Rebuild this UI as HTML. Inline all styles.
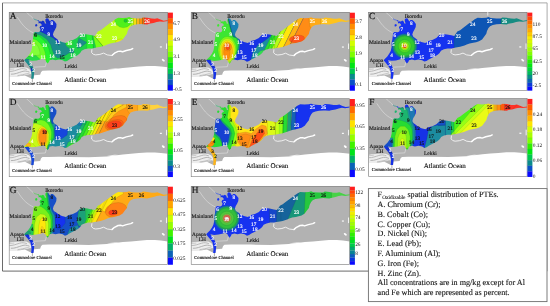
<!DOCTYPE html>
<html lang="en"><head><meta charset="utf-8"><title>Spatial distribution of PTEs</title>
<style>html,body{margin:0;padding:0;background:#fff}svg{display:block}</style></head><body>
<svg width="550" height="306" viewBox="0 0 550 306" text-rendering="geometricPrecision">
<defs><clipPath id="mc"><rect x="0" y="0" width="159.0" height="78.6"/></clipPath>
<clipPath id="lg"><path d="M24,27.8 L24.4,24.5 24.8,21.3 26,20 29.3,20.3 31,19.4 31.6,17.4 30.6,15.6 31.4,14 33,13.4 32.4,12 30.4,10.6 30.6,9.2 32.6,9.4 34,8.6 35.4,9.6 36,11.6
 37.4,11.4 36.6,9.6 36.4,7.6 37.6,6.2 39.4,6.6 40.2,8.2 41.4,9.6 42,8 44,8 45.8,9.6 47.6,12 47.4,15 46.2,17.6 44.8,20 44,22.6 45,24.8 47.4,26.4 49.5,28.2 51,29 53,30 57,31 60,29 64,28 68,26 71,23 74,22
 78.7,22.5 83,23.3 86,24 87.5,21.8 89,19.6 91.8,18.2 94.7,16 97.6,13.8 100.5,11.6 103.5,9.5 106.4,7.3 109.3,5.8 113.6,6.1 118,5.8 120.2,5.1
 122.4,6.1 128.2,6.5 132.5,6.5 134,5.5 138.4,5.8 142.7,6.6 146,6.7 148.4,6.2 151.6,7.5 154.8,8.7 159,8.1 159,9.1 154.2,9.8 151,9.4 147.8,10 144.6,11 140.1,11.8 138.4,12.4 134.7,12.2 132.5,12
 128.2,12.3 124.5,13 121.8,14.2 120.2,16 118.7,19 118,21.8 115.8,24.7 113.8,27.4 110.7,29.3 107.8,30.2 105,30.8 101.3,31.5 98.4,32.5 96.2,33.4
 91.8,34.8 87.5,35.6 85.3,36 83,36.4 79.3,36.5 75.6,37.3 72.7,38.7 71.3,41 69,43 66.2,44.5 63.3,46 60.4,47.5 58.2,49 56,49.6 53.8,48.2 50.2,47.5
 46.5,48.2 43.6,47.5 40.7,48.2 40,50 38.6,51.6 37.4,50 36.4,47.8 34.2,46.6 31.3,47.6 27.6,48.4 23.3,48.8 19.5,48.2
 21,50.4 23.3,53.3 25,57 25.3,61 24.5,66.8 22.3,66.8 22.6,63 22.4,59.8 21.6,56.4 19.6,53.5 17.2,50.6 15.3,48.2
 16.7,46.7 19,44.5 21,41.6 22.5,38.7 23.3,35 23.3,30.7 Z"/><path d="M26.4,12.4 L27.8,12 28.6,13.2 27.6,14.6 26.2,14.2 Z"/><path d="M29.6,10.2 L31,9.6 31,11 29.8,11.4 Z"/><path d="M28.4,8 L29.6,8.2 30.6,9.4 29.2,9.4 Z"/></clipPath>
<filter id="bl" filterUnits="userSpaceOnUse" x="-10" y="-10" width="180" height="100"><feGaussianBlur stdDeviation="0.55"/></filter>
<filter id="bl2" filterUnits="userSpaceOnUse" x="-10" y="-10" width="180" height="100"><feGaussianBlur stdDeviation="1.6"/></filter>
<g id="base" clip-path="url(#mc)"><rect x="0" y="0" width="159.0" height="78.6" fill="#b2b2b2"/><path d="M0,64.2 L8,64.6 16,63.4 22.4,66.6 24.8,66.6 25.2,63.2 31.2,62.7 32.2,59.9 33.6,58.7 40,58.5 50,58.4 60,58.5 80,58.8 98,58 106,57 114,56 122,55.3 130,54.6 138,54 146,54 152,54.5 159,55.3 L159,79 0,79 Z" fill="#fff"/><path d="M0,56.6 L3,56 8,55.7 13,55.3 17.4,55.5 20.4,57 22,59.4 22.6,62 19,62.8 13.4,63.2 8,64.8 0,64.6 Z" fill="#ededed"/><g fill="none" stroke="#b2b2b2" stroke-linecap="round"><path d="M1,59.4 C4,59.6 7,58.2 10.4,57.2 S15,56.6 17.6,57.4" stroke-width="0.9"/><path d="M2.4,62.2 C6,62.4 9.6,60.6 13,59.6 S17.4,59 20.2,60" stroke-width="1"/><path d="M9,63.6 C12,63.4 15,62.2 17.6,61.8 S20.4,62.2 21.6,62.8" stroke-width="0.8"/><path d="M0.6,57.4 L5,57" stroke-width="0.6"/></g><g fill="none" stroke="#e6e6e6" stroke-width="0.55" stroke-linecap="round"><path d="M17.5,0.3 L20,2.4 22.4,4.8 24.4,6.6"/><path d="M8.6,5.4 C11,9 13.5,13 17,16 S21.5,19.2 24,20.6"/><path d="M24.6,55.2 L30,54.9 36.4,54.6 37.4,50.6"/></g><path d="M83,37.6 L82.7,40.6 84.4,42.3 86.8,42.9 91,42.4 94.7,41.1 98.3,42.9 102.8,43.5 105.6,41.3" fill="none" stroke="#fafafa" stroke-width="0.85" stroke-linejoin="round" stroke-linecap="round"/><path d="M103.2,43.3 L105.6,41.2 109.2,39.4 111.6,39.2 113.7,39.8 117.4,38.5 121.9,37.5 123.8,36.6" fill="none" stroke="#fff" stroke-width="1.45" stroke-linecap="round" stroke-linejoin="round"/><ellipse cx="154.4" cy="48.2" rx="1.7" ry="1" fill="#fff" transform="rotate(35 154.4 48.2)"/><rect x="151" y="34.4" width="2" height="1.1" fill="#fff"/><rect x="157.3" y="31.4" width="1.1" height="5.6" fill="#fff"/><path d="M98,57.2 L106,56.4 110,56.6 104,57.4 Z" fill="#fff"/></g></defs>
<rect x="0" y="0" width="550" height="306" fill="#fff"/>
<path d="M2.5,2.9 H547.1 V271.1" fill="none" stroke="#a0a0a0" stroke-width="0.9"/>
<path d="M2.5,2.9 V271.1 H547.1" fill="none" stroke="#5a5a5a" stroke-width="0.9"/>
<g transform="translate(8.9,12.0)"><use href="#base"/><g clip-path="url(#lg)"><g filter="url(#bl)"><rect x="-8" y="-8" width="175.0" height="94.6" fill="#1ed24b"/><polygon points="25.8,21.2 32.4,23.4 37.8,27.2 41.6,32.6 43.3,38 45.4,43.4 48.6,46.2 52,45.6 56.3,43.4 60.6,40.7 64.4,41.3 65.5,39 62.8,36.4 60.6,36.4 57.4,34.2 56.3,32 58,28 50,26 40,10 30,10" fill="#1e8c8c"/><polygon points="20,0 52,0 52,14 49,20 50.4,28 50,33.4 48.7,30.4 44.4,26 37.8,22.8 31.3,19.5 22,19" fill="#1432d2"/><polygon points="10,10 24.7,22.3 31.3,25 36.2,29.4 39.4,34.8 41,40.3 42.2,45.7 42,56 10,56" fill="#28f52d"/><polygon points="10,20 23,26.6 27.5,28 31.5,31.4 34.6,36 36.4,41 37,46 37,56 10,56" fill="#6eff28"/><polygon points="10,24 23,29.6 26.5,31 29.5,35 31,40 31,43 10,46" fill="#82ff37"/><ellipse cx="24.6" cy="31.6" rx="1.7" ry="1.1" fill="#dcff50"/><polygon points="14,44.6 27,43.4 31,47 31,54 14,54" fill="#28dc46"/><ellipse cx="26.4" cy="22.4" rx="1.6" ry="1.2" fill="#148c3c"/><ellipse cx="60.4" cy="31" rx="3.4" ry="2.9" fill="#3cf532"/><polygon points="69.9,26 78,30.4 72.6,34.7 68.8,36.4 68.3,32" fill="#1e8c8c"/><polygon points="77,15 82.4,15 85,40 78,40" fill="#28f52d"/><polygon points="82.4,15 85.5,24 93.7,33.7 94,40 85,40" fill="#1ed24b"/><polygon points="84.4,24 85.5,24 93.7,33.7 94,40 88,40" fill="#78ff14"/><polygon points="85.5,24 86,14 119,0 126,0 126,20 118,36 95.6,36" fill="#b9ff14"/><ellipse cx="114.5" cy="6" rx="9.2" ry="9.8" fill="#50f01e"/><ellipse cx="116.7" cy="8.7" rx="1.8" ry="1.8" fill="#1ec832"/><ellipse cx="110.5" cy="29.2" rx="4" ry="2" fill="#e6f00a" transform="rotate(-14 110.5 29.2)"/><rect x="122.7" y="0" width="2" height="20" fill="#aaff14"/><rect x="124.6" y="0" width="3" height="20" fill="#ffe60a"/><rect x="127.6" y="0" width="3.3" height="20" fill="#ffb414"/><rect x="130.9" y="0" width="2.7" height="20" fill="#ff8c0a"/><rect x="133.6" y="0" width="2.2" height="20" fill="#ff5a0a"/><rect x="135.8" y="0" width="30" height="20" fill="#ff3228"/><polygon points="14,47 19.5,47 24,53 27,58 27,70 20,70 20,58" fill="#1e8c8c"/><ellipse cx="22.6" cy="57.5" rx="1" ry="1.8" fill="#1432d2"/></g><g fill="none" stroke="#002800" stroke-opacity="0.3" stroke-width="0.28" style="fill:none"><polygon points="25.8,21.2 32.4,23.4 37.8,27.2 41.6,32.6 43.3,38 45.4,43.4 48.6,46.2 52,45.6 56.3,43.4 60.6,40.7 64.4,41.3 65.5,39 62.8,36.4 60.6,36.4 57.4,34.2 56.3,32 58,28 50,26 40,10 30,10" fill="none"/><polygon points="20,0 52,0 52,14 49,20 50.4,28 50,33.4 48.7,30.4 44.4,26 37.8,22.8 31.3,19.5 22,19" fill="none"/><polygon points="10,10 24.7,22.3 31.3,25 36.2,29.4 39.4,34.8 41,40.3 42.2,45.7 42,56 10,56" fill="none"/><polygon points="10,20 23,26.6 27.5,28 31.5,31.4 34.6,36 36.4,41 37,46 37,56 10,56" fill="none"/><polygon points="10,24 23,29.6 26.5,31 29.5,35 31,40 31,43 10,46" fill="none"/><ellipse cx="24.6" cy="31.6" rx="1.7" ry="1.1" fill="none"/><polygon points="14,44.6 27,43.4 31,47 31,54 14,54" fill="none"/><ellipse cx="26.4" cy="22.4" rx="1.6" ry="1.2" fill="none"/><ellipse cx="60.4" cy="31" rx="3.4" ry="2.9" fill="none"/><polygon points="69.9,26 78,30.4 72.6,34.7 68.8,36.4 68.3,32" fill="none"/><polygon points="77,15 82.4,15 85,40 78,40" fill="none"/><polygon points="82.4,15 85.5,24 93.7,33.7 94,40 85,40" fill="none"/><polygon points="84.4,24 85.5,24 93.7,33.7 94,40 88,40" fill="none"/><polygon points="85.5,24 86,14 119,0 126,0 126,20 118,36 95.6,36" fill="none"/><ellipse cx="114.5" cy="6" rx="9.2" ry="9.8" fill="none"/><ellipse cx="116.7" cy="8.7" rx="1.8" ry="1.8" fill="none"/><ellipse cx="110.5" cy="29.2" rx="4" ry="2" fill="none" transform="rotate(-14 110.5 29.2)"/><rect x="122.7" y="0" width="2" height="20" fill="none"/><rect x="124.6" y="0" width="3" height="20" fill="none"/><rect x="127.6" y="0" width="3.3" height="20" fill="none"/><rect x="130.9" y="0" width="2.7" height="20" fill="none"/><rect x="133.6" y="0" width="2.2" height="20" fill="none"/><rect x="135.8" y="0" width="30" height="20" fill="none"/><polygon points="14,47 19.5,47 24,53 27,58 27,70 20,70 20,58" fill="none"/><ellipse cx="22.6" cy="57.5" rx="1" ry="1.8" fill="none"/></g></g><path d="M24.6,6.6 L26,7.6 27.6,8 28.6,8.4" fill="none" stroke="#2a9696" stroke-width="0.7" opacity="0.9"/><rect x="0.3" y="0.3" width="158.4" height="78.0" fill="none" stroke="#7d7d7d" stroke-width="0.6"/><g font-family="'Liberation Serif', serif" fill="#111" stroke="#111" stroke-width="0.12"><text x="0.8" y="6.9" font-size="9.3" stroke-width="0.16">A</text><text x="36.4" y="5.9" font-size="5.5">Ikorodu</text><text x="0.7" y="31.6" font-size="5.5">Mainland</text><text x="1.2" y="49.6" font-size="5.3">Apapa</text><text x="7.8" y="55" font-size="5.4">LH</text><text x="55.6" y="56.4" font-size="5.5">Lekki</text><text x="55.3" y="69.5" font-size="7">Atlantic Ocean</text><text x="3.4" y="73.2" font-size="4.6">Commodore Channel</text></g><path d="M23.5,66.8 L23.5,70" stroke="#333" stroke-width="0.4"/><g font-family="'Liberation Serif', serif" font-size="5.2" text-anchor="middle" stroke-width="0.15"><text x="24.6" y="59.8" fill="#fff" stroke="#fff">2</text><text x="21.6" y="54.2" fill="#fff" stroke="#fff">3</text><text x="23.2" y="44.6" fill="#fff" stroke="#fff">4</text><text x="25" y="33.6" fill="#fff" stroke="#fff">5</text><text x="26.6" y="24.6" fill="#111" stroke="#111">6</text><text x="33.6" y="19.2" fill="#fff" stroke="#fff">7</text><text x="43" y="13.2" fill="#fff" stroke="#fff">8</text><text x="40" y="23.9" fill="#fff" stroke="#fff">9</text><text x="35.6" y="35.4" fill="#fff" stroke="#fff">10</text><text x="34.2" y="47.2" fill="#fff" stroke="#fff">11</text><text x="48.8" y="31.8" fill="#fff" stroke="#fff">12</text><text x="49" y="41.6" fill="#fff" stroke="#fff">13</text><text x="43" y="46.0" fill="#fff" stroke="#fff">14</text><text x="53.2" y="47.2" fill="#111" stroke="#111">15</text><text x="60.6" y="32.6" fill="#fff" stroke="#fff">16</text><text x="62.8" y="40.2" fill="#fff" stroke="#fff">17</text><text x="64" y="45.0" fill="#fff" stroke="#fff">18</text><text x="69.8" y="34.8" fill="#fff" stroke="#fff">19</text><text x="73.4" y="25.0" fill="#fff" stroke="#fff">20</text><text x="81.8" y="31.5" fill="#fff" stroke="#fff">21</text><text x="90" y="25.6" fill="#fff" stroke="#fff">22</text><text x="105.6" y="28.4" fill="#fff" stroke="#fff">23</text><text x="104.4" y="13.6" fill="#fff" stroke="#fff">24</text><text x="121.4" y="10.8" fill="#fff" stroke="#fff">25</text><text x="138" y="11.0" fill="#fff" stroke="#fff">26</text></g><rect x="159.0" y="0.60" width="5.0" height="5.62" fill="rgb(255,30,30)"/><rect x="159.0" y="6.17" width="5.0" height="5.62" fill="rgb(255,90,0)"/><rect x="159.0" y="6.02" width="5.0" height="0.3" fill="#000" opacity="0.22"/><rect x="159.0" y="11.74" width="5.0" height="5.62" fill="rgb(255,140,0)"/><rect x="159.0" y="11.59" width="5.0" height="0.3" fill="#000" opacity="0.22"/><rect x="159.0" y="17.31" width="5.0" height="5.62" fill="rgb(255,180,0)"/><rect x="159.0" y="17.16" width="5.0" height="0.3" fill="#000" opacity="0.22"/><rect x="159.0" y="22.89" width="5.0" height="5.62" fill="rgb(255,230,0)"/><rect x="159.0" y="22.74" width="5.0" height="0.3" fill="#000" opacity="0.22"/><rect x="159.0" y="28.46" width="5.0" height="5.62" fill="rgb(210,255,0)"/><rect x="159.0" y="28.31" width="5.0" height="0.3" fill="#000" opacity="0.22"/><rect x="159.0" y="34.03" width="5.0" height="5.62" fill="rgb(170,255,0)"/><rect x="159.0" y="33.88" width="5.0" height="0.3" fill="#000" opacity="0.22"/><rect x="159.0" y="39.60" width="5.0" height="5.62" fill="rgb(125,255,0)"/><rect x="159.0" y="39.45" width="5.0" height="0.3" fill="#000" opacity="0.22"/><rect x="159.0" y="45.17" width="5.0" height="5.62" fill="rgb(48,240,0)"/><rect x="159.0" y="45.02" width="5.0" height="0.3" fill="#000" opacity="0.22"/><rect x="159.0" y="50.74" width="5.0" height="5.62" fill="rgb(0,230,20)"/><rect x="159.0" y="50.59" width="5.0" height="0.3" fill="#000" opacity="0.22"/><rect x="159.0" y="56.31" width="5.0" height="5.62" fill="rgb(0,200,80)"/><rect x="159.0" y="56.16" width="5.0" height="0.3" fill="#000" opacity="0.22"/><rect x="159.0" y="61.89" width="5.0" height="5.62" fill="rgb(10,140,140)"/><rect x="159.0" y="61.74" width="5.0" height="0.3" fill="#000" opacity="0.22"/><rect x="159.0" y="67.46" width="5.0" height="5.62" fill="rgb(10,80,200)"/><rect x="159.0" y="67.31" width="5.0" height="0.3" fill="#000" opacity="0.22"/><rect x="159.0" y="73.03" width="5.0" height="5.62" fill="rgb(10,10,255)"/><rect x="159.0" y="72.88" width="5.0" height="0.3" fill="#000" opacity="0.22"/><g font-family="'Liberation Serif', serif" font-size="5.4" fill="#111"><text x="164.3" y="12.5">6.7</text><text x="164.3" y="29.2">4.9</text><text x="164.3" y="45.9">3.1</text><text x="164.3" y="62.7">1.3</text><text x="164.3" y="79.2">-0.5</text></g></g>
<g transform="translate(190.9,12.1)"><use href="#base"/><g clip-path="url(#lg)"><g filter="url(#bl)"><rect x="-8" y="-8" width="175.0" height="94.6" fill="#1430e6"/><polygon points="15,0 37,0 37.6,8.2 40.9,20.2 43.5,24.5 47,25 49.2,31 48.4,37 46,42.5 42.6,47.4 40,54 15,54" fill="#1e96a0"/><polygon points="15,0 37,0 37.6,8.2 40.9,20.2 42.5,24.5 46,25 48.2,31 47.4,37 45,42.5 41.6,47.4 39,54 15,54" fill="#1ebe5a"/><polygon points="15,0 36.6,0 37.2,8.2 40.2,20.2 42,25 45.4,26 47.4,31 46.6,37 44.2,42.5 40.8,47.4 38.4,54 15,54" fill="#3ce632"/><polygon points="37.6,6 52,6 52,14 49,20 46,26 42.5,24.5 40.9,20.2" fill="#1e82b4"/><ellipse cx="36.4" cy="38" rx="9.4" ry="13.6" fill="#78fa1e"/><ellipse cx="36.5" cy="38.2" rx="8" ry="11.8" fill="#c8fa14"/><ellipse cx="36.5" cy="38.5" rx="6.7" ry="10.3" fill="#ffe60a"/><ellipse cx="36.4" cy="38.8" rx="5.4" ry="9.2" fill="#ffb414"/><ellipse cx="36" cy="40.4" rx="3.2" ry="7.4" fill="#ff8c0a"/><ellipse cx="36.8" cy="35" rx="3.8" ry="3.9" fill="#ff8c0a"/><ellipse cx="36.9" cy="35" rx="1.9" ry="2.8" fill="#ff461e"/><polygon points="12,48 19.5,47.6 24,53 27,58 27,70 20,70 20,58 14,50" fill="#1430e6"/><polygon points="60,48 62,40 67,33 72,30 76,27 84,20 84,40 70,50" fill="#1e8ca0"/><polygon points="66.5,42 70,38.4 73.6,38 72,43 67,46.6" fill="#32dc50"/><rect x="80.6" y="10" width="3.2" height="34" fill="#1ebe5a"/><polygon points="94.9,-5 98.1,-5 73.1,45 69.9,45" fill="#28dc32"/><polygon points="97.9,-5 101.9,-5 76.9,45 72.9,45" fill="#46f01e"/><polygon points="101.7,-5 106.3,-5 81.3,45 76.7,45" fill="#b4ff14"/><polygon points="106.2,-5 112.5,-5 87.5,45 81.2,45" fill="#ffe60a"/><polygon points="112.5,-5 118.0,-5 93.0,45 87.5,45" fill="#ffb414"/><polygon points="118.0,-5 202.5,-5 177.5,45 93.0,45" fill="#ff8c14"/><ellipse cx="106" cy="26.8" rx="7.7" ry="3.7" fill="#ff551e" transform="rotate(-8 106 26.8)"/><polygon points="117,0 170,0 170,20 123,20 119,14" fill="#ffaa14"/><rect x="130" y="0" width="40" height="20" fill="#ffc31e"/></g><g fill="none" stroke="#002800" stroke-opacity="0.3" stroke-width="0.28" style="fill:none"><polygon points="15,0 37,0 37.6,8.2 40.9,20.2 43.5,24.5 47,25 49.2,31 48.4,37 46,42.5 42.6,47.4 40,54 15,54" fill="none"/><polygon points="15,0 37,0 37.6,8.2 40.9,20.2 42.5,24.5 46,25 48.2,31 47.4,37 45,42.5 41.6,47.4 39,54 15,54" fill="none"/><polygon points="15,0 36.6,0 37.2,8.2 40.2,20.2 42,25 45.4,26 47.4,31 46.6,37 44.2,42.5 40.8,47.4 38.4,54 15,54" fill="none"/><polygon points="37.6,6 52,6 52,14 49,20 46,26 42.5,24.5 40.9,20.2" fill="none"/><ellipse cx="36.4" cy="38" rx="9.4" ry="13.6" fill="none"/><ellipse cx="36.5" cy="38.2" rx="8" ry="11.8" fill="none"/><ellipse cx="36.5" cy="38.5" rx="6.7" ry="10.3" fill="none"/><ellipse cx="36.4" cy="38.8" rx="5.4" ry="9.2" fill="none"/><ellipse cx="36" cy="40.4" rx="3.2" ry="7.4" fill="none"/><ellipse cx="36.8" cy="35" rx="3.8" ry="3.9" fill="none"/><ellipse cx="36.9" cy="35" rx="1.9" ry="2.8" fill="none"/><polygon points="12,48 19.5,47.6 24,53 27,58 27,70 20,70 20,58 14,50" fill="none"/><polygon points="60,48 62,40 67,33 72,30 76,27 84,20 84,40 70,50" fill="none"/><polygon points="66.5,42 70,38.4 73.6,38 72,43 67,46.6" fill="none"/><rect x="80.6" y="10" width="3.2" height="34" fill="none"/><polygon points="94.9,-5 98.1,-5 73.1,45 69.9,45" fill="none"/><polygon points="97.9,-5 101.9,-5 76.9,45 72.9,45" fill="none"/><polygon points="101.7,-5 106.3,-5 81.3,45 76.7,45" fill="none"/><polygon points="106.2,-5 112.5,-5 87.5,45 81.2,45" fill="none"/><polygon points="112.5,-5 118.0,-5 93.0,45 87.5,45" fill="none"/><polygon points="118.0,-5 202.5,-5 177.5,45 93.0,45" fill="none"/><ellipse cx="106" cy="26.8" rx="7.7" ry="3.7" fill="none" transform="rotate(-8 106 26.8)"/><polygon points="117,0 170,0 170,20 123,20 119,14" fill="none"/><rect x="130" y="0" width="40" height="20" fill="none"/></g></g><path d="M24.6,6.6 L26,7.6 27.6,8 28.6,8.4" fill="none" stroke="#50d250" stroke-width="0.7" opacity="0.9"/><rect x="0.3" y="0.3" width="158.4" height="78.0" fill="none" stroke="#7d7d7d" stroke-width="0.6"/><g font-family="'Liberation Serif', serif" fill="#111" stroke="#111" stroke-width="0.12"><text x="0.8" y="6.9" font-size="9.3" stroke-width="0.16">B</text><text x="36.4" y="5.9" font-size="5.5">Ikorodu</text><text x="0.7" y="31.6" font-size="5.5">Mainland</text><text x="1.2" y="49.6" font-size="5.3">Apapa</text><text x="7.8" y="55" font-size="5.4">LH</text><text x="55.6" y="56.4" font-size="5.5">Lekki</text><text x="55.3" y="69.5" font-size="7">Atlantic Ocean</text><text x="3.4" y="73.2" font-size="4.6">Commodore Channel</text></g><path d="M23.5,66.8 L23.5,70" stroke="#333" stroke-width="0.4"/><g font-family="'Liberation Serif', serif" font-size="5.2" text-anchor="middle" stroke-width="0.15"><text x="24.6" y="59.8" fill="#fff" stroke="#fff">2</text><text x="21.6" y="54.2" fill="#fff" stroke="#fff">3</text><text x="23.2" y="44.6" fill="#fff" stroke="#fff">4</text><text x="25" y="33.6" fill="#fff" stroke="#fff">5</text><text x="26.6" y="24.6" fill="#fff" stroke="#fff">6</text><text x="33.6" y="19.2" fill="#fff" stroke="#fff">7</text><text x="43" y="13.2" fill="#fff" stroke="#fff">8</text><text x="40" y="23.9" fill="#fff" stroke="#fff">9</text><text x="35.6" y="35.4" fill="#fff" stroke="#fff">10</text><text x="34.2" y="47.2" fill="#fff" stroke="#fff">11</text><text x="48.8" y="31.8" fill="#fff" stroke="#fff">12</text><text x="49" y="41.6" fill="#fff" stroke="#fff">13</text><text x="43" y="46.0" fill="#fff" stroke="#fff">14</text><text x="53.2" y="47.2" fill="#fff" stroke="#fff">15</text><text x="60.6" y="32.6" fill="#fff" stroke="#fff">16</text><text x="62.8" y="40.2" fill="#fff" stroke="#fff">17</text><text x="64" y="45.0" fill="#fff" stroke="#fff">18</text><text x="69.8" y="34.8" fill="#fff" stroke="#fff">19</text><text x="73.4" y="25.0" fill="#fff" stroke="#fff">20</text><text x="81.8" y="31.5" fill="#fff" stroke="#fff">21</text><text x="90" y="25.6" fill="#fff" stroke="#fff">22</text><text x="105.6" y="28.4" fill="#fff" stroke="#fff">23</text><text x="104.4" y="13.6" fill="#fff" stroke="#fff">24</text><text x="121.4" y="10.8" fill="#fff" stroke="#fff">25</text><text x="133.7" y="11.0" fill="#fff" stroke="#fff">26</text></g><rect x="159.0" y="0.60" width="5.0" height="5.62" fill="rgb(255,30,30)"/><rect x="159.0" y="6.17" width="5.0" height="5.62" fill="rgb(255,90,0)"/><rect x="159.0" y="6.02" width="5.0" height="0.3" fill="#000" opacity="0.22"/><rect x="159.0" y="11.74" width="5.0" height="5.62" fill="rgb(255,140,0)"/><rect x="159.0" y="11.59" width="5.0" height="0.3" fill="#000" opacity="0.22"/><rect x="159.0" y="17.31" width="5.0" height="5.62" fill="rgb(255,180,0)"/><rect x="159.0" y="17.16" width="5.0" height="0.3" fill="#000" opacity="0.22"/><rect x="159.0" y="22.89" width="5.0" height="5.62" fill="rgb(255,230,0)"/><rect x="159.0" y="22.74" width="5.0" height="0.3" fill="#000" opacity="0.22"/><rect x="159.0" y="28.46" width="5.0" height="5.62" fill="rgb(210,255,0)"/><rect x="159.0" y="28.31" width="5.0" height="0.3" fill="#000" opacity="0.22"/><rect x="159.0" y="34.03" width="5.0" height="5.62" fill="rgb(170,255,0)"/><rect x="159.0" y="33.88" width="5.0" height="0.3" fill="#000" opacity="0.22"/><rect x="159.0" y="39.60" width="5.0" height="5.62" fill="rgb(125,255,0)"/><rect x="159.0" y="39.45" width="5.0" height="0.3" fill="#000" opacity="0.22"/><rect x="159.0" y="45.17" width="5.0" height="5.62" fill="rgb(48,240,0)"/><rect x="159.0" y="45.02" width="5.0" height="0.3" fill="#000" opacity="0.22"/><rect x="159.0" y="50.74" width="5.0" height="5.62" fill="rgb(0,230,20)"/><rect x="159.0" y="50.59" width="5.0" height="0.3" fill="#000" opacity="0.22"/><rect x="159.0" y="56.31" width="5.0" height="5.62" fill="rgb(0,200,80)"/><rect x="159.0" y="56.16" width="5.0" height="0.3" fill="#000" opacity="0.22"/><rect x="159.0" y="61.89" width="5.0" height="5.62" fill="rgb(10,140,140)"/><rect x="159.0" y="61.74" width="5.0" height="0.3" fill="#000" opacity="0.22"/><rect x="159.0" y="67.46" width="5.0" height="5.62" fill="rgb(10,80,200)"/><rect x="159.0" y="67.31" width="5.0" height="0.3" fill="#000" opacity="0.22"/><rect x="159.0" y="73.03" width="5.0" height="5.62" fill="rgb(10,10,255)"/><rect x="159.0" y="72.88" width="5.0" height="0.3" fill="#000" opacity="0.22"/><g font-family="'Liberation Serif', serif" font-size="5.4" fill="#111"><text x="164.3" y="11.1">3.7</text><text x="164.3" y="27.0">2.8</text><text x="164.3" y="43.0">1.9</text><text x="164.3" y="58.5">1</text><text x="164.3" y="74.3">0.1</text></g></g>
<g transform="translate(368.3,12.0)"><use href="#base"/><g clip-path="url(#lg)"><g filter="url(#bl)"><rect x="-8" y="-8" width="175.0" height="94.6" fill="#1432f0"/><polygon points="86.3,0 133,0 133,40 85.6,40" fill="#0f55b4"/><rect x="132.6" y="0" width="40" height="20" fill="#148c82"/><ellipse cx="36.4" cy="34.1" rx="12.6" ry="12.6" fill="#1464c8"/><ellipse cx="36.4" cy="34.1" rx="11.8" ry="11.8" fill="#1e8ca0"/><ellipse cx="36.4" cy="34.1" rx="11" ry="11" fill="#28aa5a"/><ellipse cx="36.4" cy="34.1" rx="10" ry="10" fill="#32c832"/><ellipse cx="36.4" cy="34.1" rx="6.4" ry="6.4" fill="#50dc28"/><ellipse cx="36.4" cy="34.1" rx="4.2" ry="4.2" fill="#96f01e"/><ellipse cx="36.4" cy="34.2" rx="2.7" ry="2.7" fill="#f0e614"/><ellipse cx="36.4" cy="34.3" rx="1.8" ry="1.8" fill="#ff8c0a"/><ellipse cx="36.4" cy="34.4" rx="1.2" ry="1.2" fill="#e6281e"/></g><g fill="none" stroke="#002800" stroke-opacity="0.3" stroke-width="0.28" style="fill:none"><polygon points="86.3,0 133,0 133,40 85.6,40" fill="none"/><rect x="132.6" y="0" width="40" height="20" fill="none"/><ellipse cx="36.4" cy="34.1" rx="12.6" ry="12.6" fill="none"/><ellipse cx="36.4" cy="34.1" rx="11.8" ry="11.8" fill="none"/><ellipse cx="36.4" cy="34.1" rx="11" ry="11" fill="none"/><ellipse cx="36.4" cy="34.1" rx="10" ry="10" fill="none"/><ellipse cx="36.4" cy="34.1" rx="6.4" ry="6.4" fill="none"/><ellipse cx="36.4" cy="34.1" rx="4.2" ry="4.2" fill="none"/><ellipse cx="36.4" cy="34.2" rx="2.7" ry="2.7" fill="none"/><ellipse cx="36.4" cy="34.3" rx="1.8" ry="1.8" fill="none"/><ellipse cx="36.4" cy="34.4" rx="1.2" ry="1.2" fill="none"/></g></g><path d="M24.6,6.6 L26,7.6 27.6,8 28.6,8.4" fill="none" stroke="#2850f0" stroke-width="0.7" opacity="0.9"/><rect x="0.3" y="0.3" width="158.4" height="78.0" fill="none" stroke="#7d7d7d" stroke-width="0.6"/><rect x="119.2" y="0" width="0.7" height="3.6" fill="#fff"/><g font-family="'Liberation Serif', serif" fill="#111" stroke="#111" stroke-width="0.12"><text x="0.8" y="6.9" font-size="9.3" stroke-width="0.16">C</text><text x="36.4" y="5.9" font-size="5.5">Ikorodu</text><text x="0.7" y="31.6" font-size="5.5">Mainland</text><text x="1.2" y="49.6" font-size="5.3">Apapa</text><text x="7.8" y="55" font-size="5.4">LH</text><text x="55.6" y="56.4" font-size="5.5">Lekki</text><text x="55.3" y="69.5" font-size="7">Atlantic Ocean</text><text x="3.4" y="73.2" font-size="4.6">Commodore Channel</text></g><path d="M23.5,66.8 L23.5,70" stroke="#333" stroke-width="0.4"/><g font-family="'Liberation Serif', serif" font-size="5.2" text-anchor="middle" stroke-width="0.15"><text x="24.6" y="59.8" fill="#fff" stroke="#fff">2</text><text x="21.6" y="54.2" fill="#fff" stroke="#fff">3</text><text x="23.2" y="44.6" fill="#fff" stroke="#fff">4</text><text x="25" y="33.6" fill="#fff" stroke="#fff">5</text><text x="26.6" y="24.6" fill="#fff" stroke="#fff">6</text><text x="33.6" y="19.2" fill="#fff" stroke="#fff">7</text><text x="43" y="13.2" fill="#fff" stroke="#fff">8</text><text x="40" y="23.9" fill="#fff" stroke="#fff">9</text><text x="35.6" y="35.4" fill="#fff" stroke="#fff">10</text><text x="34.2" y="47.2" fill="#fff" stroke="#fff">11</text><text x="48.8" y="31.8" fill="#fff" stroke="#fff">12</text><text x="49" y="41.6" fill="#fff" stroke="#fff">13</text><text x="43" y="46.0" fill="#fff" stroke="#fff">14</text><text x="53.2" y="47.2" fill="#fff" stroke="#fff">15</text><text x="60.6" y="32.6" fill="#fff" stroke="#fff">16</text><text x="62.8" y="40.2" fill="#fff" stroke="#fff">17</text><text x="64" y="45.0" fill="#fff" stroke="#fff">18</text><text x="69.8" y="34.8" fill="#fff" stroke="#fff">19</text><text x="73.4" y="25.0" fill="#fff" stroke="#fff">20</text><text x="81.8" y="31.5" fill="#fff" stroke="#fff">21</text><text x="90" y="25.6" fill="#fff" stroke="#fff">22</text><text x="105.6" y="28.4" fill="#fff" stroke="#fff">23</text><text x="104.4" y="13.6" fill="#fff" stroke="#fff">24</text><text x="121.4" y="10.8" fill="#fff" stroke="#fff">25</text><text x="136.2" y="11.0" fill="#fff" stroke="#fff">26</text></g><rect x="159.0" y="0.60" width="5.0" height="3.95" fill="rgb(255,30,30)"/><rect x="159.0" y="4.50" width="5.0" height="3.95" fill="rgb(255,71,9)"/><rect x="159.0" y="4.35" width="5.0" height="0.3" fill="#000" opacity="0.22"/><rect x="159.0" y="8.40" width="5.0" height="3.95" fill="rgb(255,108,0)"/><rect x="159.0" y="8.25" width="5.0" height="0.3" fill="#000" opacity="0.22"/><rect x="159.0" y="12.30" width="5.0" height="3.95" fill="rgb(255,142,0)"/><rect x="159.0" y="12.15" width="5.0" height="0.3" fill="#000" opacity="0.22"/><rect x="159.0" y="16.20" width="5.0" height="3.95" fill="rgb(255,169,0)"/><rect x="159.0" y="16.05" width="5.0" height="0.3" fill="#000" opacity="0.22"/><rect x="159.0" y="20.10" width="5.0" height="3.95" fill="rgb(255,201,0)"/><rect x="159.0" y="19.95" width="5.0" height="0.3" fill="#000" opacity="0.22"/><rect x="159.0" y="24.00" width="5.0" height="3.95" fill="rgb(250,233,0)"/><rect x="159.0" y="23.85" width="5.0" height="0.3" fill="#000" opacity="0.22"/><rect x="159.0" y="27.90" width="5.0" height="3.95" fill="rgb(219,250,0)"/><rect x="159.0" y="27.75" width="5.0" height="0.3" fill="#000" opacity="0.22"/><rect x="159.0" y="31.80" width="5.0" height="3.95" fill="rgb(191,255,0)"/><rect x="159.0" y="31.65" width="5.0" height="0.3" fill="#000" opacity="0.22"/><rect x="159.0" y="35.70" width="5.0" height="3.95" fill="rgb(163,255,0)"/><rect x="159.0" y="35.55" width="5.0" height="0.3" fill="#000" opacity="0.22"/><rect x="159.0" y="39.60" width="5.0" height="3.95" fill="rgb(132,255,0)"/><rect x="159.0" y="39.45" width="5.0" height="0.3" fill="#000" opacity="0.22"/><rect x="159.0" y="43.50" width="5.0" height="3.95" fill="rgb(84,247,0)"/><rect x="159.0" y="43.35" width="5.0" height="0.3" fill="#000" opacity="0.22"/><rect x="159.0" y="47.40" width="5.0" height="3.95" fill="rgb(38,238,4)"/><rect x="159.0" y="47.25" width="5.0" height="0.3" fill="#000" opacity="0.22"/><rect x="159.0" y="51.30" width="5.0" height="3.95" fill="rgb(5,231,18)"/><rect x="159.0" y="51.15" width="5.0" height="0.3" fill="#000" opacity="0.22"/><rect x="159.0" y="55.20" width="5.0" height="3.95" fill="rgb(0,213,55)"/><rect x="159.0" y="55.05" width="5.0" height="0.3" fill="#000" opacity="0.22"/><rect x="159.0" y="59.10" width="5.0" height="3.95" fill="rgb(3,184,96)"/><rect x="159.0" y="58.95" width="5.0" height="0.3" fill="#000" opacity="0.22"/><rect x="159.0" y="63.00" width="5.0" height="3.95" fill="rgb(9,143,137)"/><rect x="159.0" y="62.85" width="5.0" height="0.3" fill="#000" opacity="0.22"/><rect x="159.0" y="66.90" width="5.0" height="3.95" fill="rgb(10,102,178)"/><rect x="159.0" y="66.75" width="5.0" height="0.3" fill="#000" opacity="0.22"/><rect x="159.0" y="70.80" width="5.0" height="3.95" fill="rgb(10,58,217)"/><rect x="159.0" y="70.65" width="5.0" height="0.3" fill="#000" opacity="0.22"/><rect x="159.0" y="74.70" width="5.0" height="3.95" fill="rgb(10,10,255)"/><rect x="159.0" y="74.55" width="5.0" height="0.3" fill="#000" opacity="0.22"/><g font-family="'Liberation Serif', serif" font-size="5.4" fill="#111"><text x="164.3" y="13.8">110</text><text x="164.3" y="25.7">87.5</text><text x="164.3" y="38.0">65</text><text x="164.3" y="50.5">42.5</text><text x="164.3" y="62.8">20</text><text x="164.3" y="75.2">-2.5</text></g></g>
<g transform="translate(8.9,98.4)"><use href="#base"/><g clip-path="url(#lg)"><g filter="url(#bl)"><rect x="-8" y="-8" width="175.0" height="94.6" fill="#1e8ca0"/><polygon points="15,0 39,0 40.5,9 41,20 43,25 45.4,30 45.6,39 43,44 40,47 38,54 15,54" fill="#1eb46e"/><polygon points="15,0 38.4,0 39.8,9 40.2,20 42,25 44.4,30 44.6,39 42,43.6 39,47 38,54 15,54" fill="#28dc32"/><polygon points="40.8,6 52,6 52,14 49,20 46,25 43,25 41.6,19" fill="#1450c8"/><ellipse cx="32" cy="36" rx="10.6" ry="14.5" fill="#78fa1e"/><polygon points="10,24 27,25 33,27 38,31 40.4,36 40,42 38,50 10,54" fill="#c8fa14"/><ellipse cx="33.6" cy="38.6" rx="5.6" ry="10.4" fill="#ffe60a"/><ellipse cx="33.8" cy="38.8" rx="4.4" ry="9.2" fill="#ffb414"/><ellipse cx="33.7" cy="39" rx="3.3" ry="8.2" fill="#ff8c14"/><ellipse cx="35.6" cy="33.4" rx="2" ry="2.2" fill="#ff501e"/><ellipse cx="19.4" cy="46.4" rx="2.6" ry="2" fill="#ffb414"/><polygon points="12,49 19.5,48.4 24,53 27,58 27,70 20,70 20,58 14,51" fill="#1446dc"/><polygon points="46.6,25 54.6,29.3 59,30.7 58.3,36.5 53.2,40.2 48.8,41.8 46,39.5 45.6,30.7" fill="#1446dc"/><polygon points="66,24 72,20 78,22 77,26 70,27" fill="#1e78b4"/><polygon points="57,50 59,44 64,41 70,38 72,40 70,46 62,50" fill="#28c85a"/><polygon points="60,50 62,45.6 66,43 70,41 71,43 68,47 62,50" fill="#50f01e"/><polygon points="88.5,-5 91.9,-5 66.9,45 63.5,45" fill="#1eb46e"/><polygon points="91.7,-5 95.1,-5 70.1,45 66.7,45" fill="#28dc32"/><polygon points="94.9,-5 98.3,-5 73.3,45 69.9,45" fill="#46f01e"/><polygon points="98.1,-5 101.3,-5 76.3,45 73.1,45" fill="#96ff14"/><polygon points="101.1,-5 103.9,-5 78.9,45 76.1,45" fill="#d2ff0a"/><polygon points="103.7,-5 106.9,-5 81.9,45 78.7,45" fill="#ffe60a"/><polygon points="106.7,-5 110.3,-5 85.3,45 81.7,45" fill="#ffb414"/><polygon points="110.1,-5 202.5,-5 177.5,45 85.1,45" fill="#ff9614"/><polygon points="93,22 100,10 106,4 112,3.4 113.4,7 107,10.6 102,15 97,23" fill="#ffe60a"/><polygon points="97,23 102,15 107,10.6 113.4,7 117,5 118,8.6 110,12.6 105,16.6 100,24" fill="#ffc81e"/><ellipse cx="107" cy="24.6" rx="11.6" ry="6.4" fill="#ff7814" transform="rotate(-24 107 24.6)"/><ellipse cx="106" cy="26" rx="8.6" ry="4.6" fill="#ff5f14" transform="rotate(-14 106 26)"/><ellipse cx="105.6" cy="26.3" rx="7" ry="3.6" fill="#ff411e" transform="rotate(-8 105.6 26.3)"/><polygon points="117,0 170,0 170,20 124,20 118.6,12" fill="#ffa51e"/><rect x="129" y="0" width="40" height="20" fill="#ffc328"/><rect x="141" y="0" width="40" height="20" fill="#ffd23c"/></g><g fill="none" stroke="#002800" stroke-opacity="0.3" stroke-width="0.28" style="fill:none"><polygon points="15,0 39,0 40.5,9 41,20 43,25 45.4,30 45.6,39 43,44 40,47 38,54 15,54" fill="none"/><polygon points="15,0 38.4,0 39.8,9 40.2,20 42,25 44.4,30 44.6,39 42,43.6 39,47 38,54 15,54" fill="none"/><polygon points="40.8,6 52,6 52,14 49,20 46,25 43,25 41.6,19" fill="none"/><ellipse cx="32" cy="36" rx="10.6" ry="14.5" fill="none"/><polygon points="10,24 27,25 33,27 38,31 40.4,36 40,42 38,50 10,54" fill="none"/><ellipse cx="33.6" cy="38.6" rx="5.6" ry="10.4" fill="none"/><ellipse cx="33.8" cy="38.8" rx="4.4" ry="9.2" fill="none"/><ellipse cx="33.7" cy="39" rx="3.3" ry="8.2" fill="none"/><ellipse cx="35.6" cy="33.4" rx="2" ry="2.2" fill="none"/><ellipse cx="19.4" cy="46.4" rx="2.6" ry="2" fill="none"/><polygon points="12,49 19.5,48.4 24,53 27,58 27,70 20,70 20,58 14,51" fill="none"/><polygon points="46.6,25 54.6,29.3 59,30.7 58.3,36.5 53.2,40.2 48.8,41.8 46,39.5 45.6,30.7" fill="none"/><polygon points="66,24 72,20 78,22 77,26 70,27" fill="none"/><polygon points="57,50 59,44 64,41 70,38 72,40 70,46 62,50" fill="none"/><polygon points="60,50 62,45.6 66,43 70,41 71,43 68,47 62,50" fill="none"/><polygon points="88.5,-5 91.9,-5 66.9,45 63.5,45" fill="none"/><polygon points="91.7,-5 95.1,-5 70.1,45 66.7,45" fill="none"/><polygon points="94.9,-5 98.3,-5 73.3,45 69.9,45" fill="none"/><polygon points="98.1,-5 101.3,-5 76.3,45 73.1,45" fill="none"/><polygon points="101.1,-5 103.9,-5 78.9,45 76.1,45" fill="none"/><polygon points="103.7,-5 106.9,-5 81.9,45 78.7,45" fill="none"/><polygon points="106.7,-5 110.3,-5 85.3,45 81.7,45" fill="none"/><polygon points="110.1,-5 202.5,-5 177.5,45 85.1,45" fill="none"/><polygon points="93,22 100,10 106,4 112,3.4 113.4,7 107,10.6 102,15 97,23" fill="none"/><polygon points="97,23 102,15 107,10.6 113.4,7 117,5 118,8.6 110,12.6 105,16.6 100,24" fill="none"/><ellipse cx="107" cy="24.6" rx="11.6" ry="6.4" fill="none" transform="rotate(-24 107 24.6)"/><ellipse cx="106" cy="26" rx="8.6" ry="4.6" fill="none" transform="rotate(-14 106 26)"/><ellipse cx="105.6" cy="26.3" rx="7" ry="3.6" fill="none" transform="rotate(-8 105.6 26.3)"/><polygon points="117,0 170,0 170,20 124,20 118.6,12" fill="none"/><rect x="129" y="0" width="40" height="20" fill="none"/><rect x="141" y="0" width="40" height="20" fill="none"/></g></g><path d="M24.6,6.6 L26,7.6 27.6,8 28.6,8.4" fill="none" stroke="#50d250" stroke-width="0.7" opacity="0.9"/><rect x="0.3" y="0.3" width="158.4" height="78.0" fill="none" stroke="#7d7d7d" stroke-width="0.6"/><g font-family="'Liberation Serif', serif" fill="#111" stroke="#111" stroke-width="0.12"><text x="0.8" y="6.9" font-size="9.3" stroke-width="0.16">D</text><text x="36.4" y="5.9" font-size="5.5">Ikorodu</text><text x="0.7" y="31.6" font-size="5.5">Mainland</text><text x="1.2" y="49.6" font-size="5.3">Apapa</text><text x="7.8" y="55" font-size="5.4">LH</text><text x="55.6" y="56.4" font-size="5.5">Lekki</text><text x="55.3" y="69.5" font-size="7">Atlantic Ocean</text><text x="3.4" y="73.2" font-size="4.6">Commodore Channel</text></g><path d="M23.5,66.8 L23.5,70" stroke="#333" stroke-width="0.4"/><g font-family="'Liberation Serif', serif" font-size="5.2" text-anchor="middle" stroke-width="0.15"><text x="24.6" y="59.8" fill="#fff" stroke="#fff">2</text><text x="21.6" y="54.2" fill="#fff" stroke="#fff">3</text><text x="23.2" y="44.6" fill="#fff" stroke="#fff">4</text><text x="25" y="33.6" fill="#111" stroke="#111">5</text><text x="26.6" y="24.6" fill="#111" stroke="#111">6</text><text x="33.6" y="19.2" fill="#fff" stroke="#fff">7</text><text x="43" y="13.2" fill="#fff" stroke="#fff">8</text><text x="40" y="23.9" fill="#fff" stroke="#fff">9</text><text x="35.6" y="35.4" fill="#111" stroke="#111">10</text><text x="34.2" y="47.2" fill="#111" stroke="#111">11</text><text x="48.8" y="31.8" fill="#fff" stroke="#fff">12</text><text x="49" y="41.6" fill="#fff" stroke="#fff">13</text><text x="43" y="46.0" fill="#fff" stroke="#fff">14</text><text x="53.2" y="47.2" fill="#fff" stroke="#fff">15</text><text x="60.6" y="32.6" fill="#fff" stroke="#fff">16</text><text x="62.8" y="40.2" fill="#fff" stroke="#fff">17</text><text x="64" y="45.0" fill="#fff" stroke="#fff">18</text><text x="69.8" y="34.8" fill="#fff" stroke="#fff">19</text><text x="73.4" y="25.0" fill="#fff" stroke="#fff">20</text><text x="81.8" y="31.5" fill="#fff" stroke="#fff">21</text><text x="90" y="25.6" fill="#111" stroke="#111">22</text><text x="105.6" y="28.4" fill="#111" stroke="#111">23</text><text x="104.4" y="13.6" fill="#111" stroke="#111">24</text><text x="121.4" y="10.8" fill="#111" stroke="#111">25</text><text x="136.2" y="11.0" fill="#111" stroke="#111">26</text></g><rect x="159.0" y="0.60" width="5.0" height="5.62" fill="rgb(255,30,30)"/><rect x="159.0" y="6.17" width="5.0" height="5.62" fill="rgb(255,90,0)"/><rect x="159.0" y="6.02" width="5.0" height="0.3" fill="#000" opacity="0.22"/><rect x="159.0" y="11.74" width="5.0" height="5.62" fill="rgb(255,140,0)"/><rect x="159.0" y="11.59" width="5.0" height="0.3" fill="#000" opacity="0.22"/><rect x="159.0" y="17.31" width="5.0" height="5.62" fill="rgb(255,180,0)"/><rect x="159.0" y="17.16" width="5.0" height="0.3" fill="#000" opacity="0.22"/><rect x="159.0" y="22.89" width="5.0" height="5.62" fill="rgb(255,230,0)"/><rect x="159.0" y="22.74" width="5.0" height="0.3" fill="#000" opacity="0.22"/><rect x="159.0" y="28.46" width="5.0" height="5.62" fill="rgb(210,255,0)"/><rect x="159.0" y="28.31" width="5.0" height="0.3" fill="#000" opacity="0.22"/><rect x="159.0" y="34.03" width="5.0" height="5.62" fill="rgb(170,255,0)"/><rect x="159.0" y="33.88" width="5.0" height="0.3" fill="#000" opacity="0.22"/><rect x="159.0" y="39.60" width="5.0" height="5.62" fill="rgb(125,255,0)"/><rect x="159.0" y="39.45" width="5.0" height="0.3" fill="#000" opacity="0.22"/><rect x="159.0" y="45.17" width="5.0" height="5.62" fill="rgb(48,240,0)"/><rect x="159.0" y="45.02" width="5.0" height="0.3" fill="#000" opacity="0.22"/><rect x="159.0" y="50.74" width="5.0" height="5.62" fill="rgb(0,230,20)"/><rect x="159.0" y="50.59" width="5.0" height="0.3" fill="#000" opacity="0.22"/><rect x="159.0" y="56.31" width="5.0" height="5.62" fill="rgb(0,200,80)"/><rect x="159.0" y="56.16" width="5.0" height="0.3" fill="#000" opacity="0.22"/><rect x="159.0" y="61.89" width="5.0" height="5.62" fill="rgb(10,140,140)"/><rect x="159.0" y="61.74" width="5.0" height="0.3" fill="#000" opacity="0.22"/><rect x="159.0" y="67.46" width="5.0" height="5.62" fill="rgb(10,80,200)"/><rect x="159.0" y="67.31" width="5.0" height="0.3" fill="#000" opacity="0.22"/><rect x="159.0" y="73.03" width="5.0" height="5.62" fill="rgb(10,10,255)"/><rect x="159.0" y="72.88" width="5.0" height="0.3" fill="#000" opacity="0.22"/><g font-family="'Liberation Serif', serif" font-size="5.4" fill="#111"><text x="164.3" y="6.3">3.3</text><text x="164.3" y="22.2">2.55</text><text x="164.3" y="38.0">1.8</text><text x="164.3" y="53.6">1.05</text><text x="164.3" y="69.3">0.3</text></g></g>
<g transform="translate(190.9,98.4)"><use href="#base"/><g clip-path="url(#lg)"><g filter="url(#bl)"><rect x="-8" y="-8" width="175.0" height="94.6" fill="#ffe614"/><polygon points="15,0 40,0 40,10 39.5,19 43.4,23.5 46.4,29.3 47.6,35 46.4,42.4 43.6,50 15,54" fill="#d2ff0a"/><polygon points="15,0 39,0 39,10 38.5,19 42,23.5 45,29.3 46.2,35 45,42.4 42.4,50 15,54" fill="#96ff14"/><polygon points="15,0 38,0 38,10 36.4,19 38.8,23.5 42.5,29.3 44,35 42.5,42.4 40.3,48.2 40,54 15,54" fill="#28dc32"/><polygon points="23.39,17.8 28.39,18.32 31.86,22.72 39.42,29.83 40.97,35.36 38.75,44.14 35.9,49.59 31.76,50.39 30.86,44.6 27.83,40.02 22.86,35.53 21.73,28.14 23.14,21.63" fill="#1ebe5a"/><polygon points="23.85,18.8 28.54,19.41 31.73,23.81 38.41,30.27 39.89,35.18 38.08,43.27 35.55,48.54 31.68,49.3 30.83,43.5 28.27,39.01 23.93,35.26 22.67,28.72 23.72,22.56" fill="#1e8ca0"/><polygon points="24.3,19.8 28.7,20.5 31.6,24.9 37.4,30.7 38.8,35 37.4,42.4 35.2,47.5 31.6,48.2 30.8,42.4 28.7,38 25,35 23.6,29.3 24.3,23.5" fill="#1441d2"/><ellipse cx="21.6" cy="42" rx="2" ry="3.4" fill="#ffe60a" transform="rotate(20 21.6 42)"/><ellipse cx="20" cy="45.6" rx="3.4" ry="2.6" fill="#ff8c0a" transform="rotate(-30 20 45.6)"/><polygon points="12,48.6 19.5,47.8 24,53 27,58 27,70 20,70 20,58 14,51" fill="#ffb414"/><ellipse cx="24.4" cy="57.6" rx="1.4" ry="2.4" fill="#ffe60a"/><polygon points="46,35 54.8,33.6 60.6,35 65,30.7 71,26.4 75.2,27.8 76.6,35 66.5,45.3 59,50 50.5,48 46.8,43.8" fill="#ffa01e"/><polygon points="48,37 54.8,35.6 60,37 58,44 56,50 51,47 48.4,43" fill="#ff8c14"/><polygon points="58,50 61.4,41 65.7,35 69.4,30.7 73,31.5 73.7,35 69.4,41 65,46.3 60,50" fill="#ff5014"/><rect x="76.8" y="10" width="8" height="34" fill="#dcfa14"/><ellipse cx="84.7" cy="24" rx="1.3" ry="1" fill="#ffb414"/><polygon points="84.9,0 93,0 92,40 84.5,40" fill="#c8ff14"/><polygon points="88.6,0 93,0 92,40 88.2,40" fill="#96ff14"/><polygon points="92.6,0 97,0 96,40 91.6,40" fill="#28dc32"/><polygon points="97,0 101,0 99.6,40 96,40" fill="#1ea078"/><polygon points="101,0 106,0 104,40 99.6,40" fill="#1464b4"/><polygon points="105.4,0 170,0 170,40 103.6,40" fill="#1432f0"/></g><g fill="none" stroke="#002800" stroke-opacity="0.3" stroke-width="0.28" style="fill:none"><polygon points="15,0 40,0 40,10 39.5,19 43.4,23.5 46.4,29.3 47.6,35 46.4,42.4 43.6,50 15,54" fill="none"/><polygon points="15,0 39,0 39,10 38.5,19 42,23.5 45,29.3 46.2,35 45,42.4 42.4,50 15,54" fill="none"/><polygon points="15,0 38,0 38,10 36.4,19 38.8,23.5 42.5,29.3 44,35 42.5,42.4 40.3,48.2 40,54 15,54" fill="none"/><polygon points="23.39,17.8 28.39,18.32 31.86,22.72 39.42,29.83 40.97,35.36 38.75,44.14 35.9,49.59 31.76,50.39 30.86,44.6 27.83,40.02 22.86,35.53 21.73,28.14 23.14,21.63" fill="none"/><polygon points="23.85,18.8 28.54,19.41 31.73,23.81 38.41,30.27 39.89,35.18 38.08,43.27 35.55,48.54 31.68,49.3 30.83,43.5 28.27,39.01 23.93,35.26 22.67,28.72 23.72,22.56" fill="none"/><polygon points="24.3,19.8 28.7,20.5 31.6,24.9 37.4,30.7 38.8,35 37.4,42.4 35.2,47.5 31.6,48.2 30.8,42.4 28.7,38 25,35 23.6,29.3 24.3,23.5" fill="none"/><ellipse cx="21.6" cy="42" rx="2" ry="3.4" fill="none" transform="rotate(20 21.6 42)"/><ellipse cx="20" cy="45.6" rx="3.4" ry="2.6" fill="none" transform="rotate(-30 20 45.6)"/><polygon points="12,48.6 19.5,47.8 24,53 27,58 27,70 20,70 20,58 14,51" fill="none"/><ellipse cx="24.4" cy="57.6" rx="1.4" ry="2.4" fill="none"/><polygon points="46,35 54.8,33.6 60.6,35 65,30.7 71,26.4 75.2,27.8 76.6,35 66.5,45.3 59,50 50.5,48 46.8,43.8" fill="none"/><polygon points="48,37 54.8,35.6 60,37 58,44 56,50 51,47 48.4,43" fill="none"/><polygon points="58,50 61.4,41 65.7,35 69.4,30.7 73,31.5 73.7,35 69.4,41 65,46.3 60,50" fill="none"/><rect x="76.8" y="10" width="8" height="34" fill="none"/><ellipse cx="84.7" cy="24" rx="1.3" ry="1" fill="none"/><polygon points="84.9,0 93,0 92,40 84.5,40" fill="none"/><polygon points="88.6,0 93,0 92,40 88.2,40" fill="none"/><polygon points="92.6,0 97,0 96,40 91.6,40" fill="none"/><polygon points="97,0 101,0 99.6,40 96,40" fill="none"/><polygon points="101,0 106,0 104,40 99.6,40" fill="none"/><polygon points="105.4,0 170,0 170,40 103.6,40" fill="none"/></g></g><path d="M24.6,6.6 L26,7.6 27.6,8 28.6,8.4" fill="none" stroke="#32c878" stroke-width="0.7" opacity="0.9"/><rect x="0.3" y="0.3" width="158.4" height="78.0" fill="none" stroke="#7d7d7d" stroke-width="0.6"/><g font-family="'Liberation Serif', serif" fill="#111" stroke="#111" stroke-width="0.12"><text x="0.8" y="6.9" font-size="9.3" stroke-width="0.16">E</text><text x="36.4" y="5.9" font-size="5.5">Ikorodu</text><text x="0.7" y="31.6" font-size="5.5">Mainland</text><text x="1.2" y="49.6" font-size="5.3">Apapa</text><text x="7.8" y="55" font-size="5.4">LH</text><text x="55.6" y="56.4" font-size="5.5">Lekki</text><text x="55.3" y="69.5" font-size="7">Atlantic Ocean</text><text x="3.4" y="73.2" font-size="4.6">Commodore Channel</text></g><path d="M23.5,66.8 L23.5,70" stroke="#333" stroke-width="0.4"/><g font-family="'Liberation Serif', serif" font-size="5.2" text-anchor="middle" stroke-width="0.15"><text x="24.6" y="59.8" fill="#111" stroke="#111">2</text><text x="21.6" y="54.2" fill="#111" stroke="#111">3</text><text x="23.2" y="44.6" fill="#111" stroke="#111">4</text><text x="25" y="33.6" fill="#fff" stroke="#fff">5</text><text x="26.6" y="24.6" fill="#fff" stroke="#fff">6</text><text x="33.6" y="19.2" fill="#111" stroke="#111">7</text><text x="43" y="13.2" fill="#111" stroke="#111">8</text><text x="40" y="23.9" fill="#111" stroke="#111">9</text><text x="35.6" y="35.4" fill="#fff" stroke="#fff">10</text><text x="34.2" y="47.2" fill="#fff" stroke="#fff">11</text><text x="48.8" y="31.8" fill="#111" stroke="#111">12</text><text x="49" y="41.6" fill="#111" stroke="#111">13</text><text x="43" y="46.0" fill="#111" stroke="#111">14</text><text x="53.2" y="47.2" fill="#111" stroke="#111">15</text><text x="60.6" y="32.6" fill="#111" stroke="#111">16</text><text x="62.8" y="40.2" fill="#111" stroke="#111">17</text><text x="64" y="45.0" fill="#111" stroke="#111">18</text><text x="69.8" y="34.8" fill="#111" stroke="#111">19</text><text x="73.4" y="25.0" fill="#111" stroke="#111">20</text><text x="81.8" y="31.5" fill="#111" stroke="#111">21</text><text x="90" y="25.6" fill="#111" stroke="#111">22</text><text x="105.6" y="28.4" fill="#fff" stroke="#fff">23</text><text x="104.4" y="13.6" fill="#fff" stroke="#fff">24</text><text x="121.4" y="10.8" fill="#fff" stroke="#fff">25</text><text x="132.7" y="11.0" fill="#fff" stroke="#fff">26</text></g><rect x="159.0" y="0.60" width="5.0" height="7.14" fill="rgb(255,30,30)"/><rect x="159.0" y="7.69" width="5.0" height="7.14" fill="rgb(255,105,0)"/><rect x="159.0" y="7.54" width="5.0" height="0.3" fill="#000" opacity="0.22"/><rect x="159.0" y="14.78" width="5.0" height="7.14" fill="rgb(255,164,0)"/><rect x="159.0" y="14.63" width="5.0" height="0.3" fill="#000" opacity="0.22"/><rect x="159.0" y="21.87" width="5.0" height="7.14" fill="rgb(255,225,0)"/><rect x="159.0" y="21.72" width="5.0" height="0.3" fill="#000" opacity="0.22"/><rect x="159.0" y="28.96" width="5.0" height="7.14" fill="rgb(202,255,0)"/><rect x="159.0" y="28.81" width="5.0" height="0.3" fill="#000" opacity="0.22"/><rect x="159.0" y="36.05" width="5.0" height="7.14" fill="rgb(148,255,0)"/><rect x="159.0" y="35.90" width="5.0" height="0.3" fill="#000" opacity="0.22"/><rect x="159.0" y="43.15" width="5.0" height="7.14" fill="rgb(63,243,0)"/><rect x="159.0" y="43.00" width="5.0" height="0.3" fill="#000" opacity="0.22"/><rect x="159.0" y="50.24" width="5.0" height="7.14" fill="rgb(0,227,26)"/><rect x="159.0" y="50.09" width="5.0" height="0.3" fill="#000" opacity="0.22"/><rect x="159.0" y="57.33" width="5.0" height="7.14" fill="rgb(4,176,104)"/><rect x="159.0" y="57.18" width="5.0" height="0.3" fill="#000" opacity="0.22"/><rect x="159.0" y="64.42" width="5.0" height="7.14" fill="rgb(10,98,182)"/><rect x="159.0" y="64.27" width="5.0" height="0.3" fill="#000" opacity="0.22"/><rect x="159.0" y="71.51" width="5.0" height="7.14" fill="rgb(10,10,255)"/><rect x="159.0" y="71.36" width="5.0" height="0.3" fill="#000" opacity="0.22"/><g font-family="'Liberation Serif', serif" font-size="5.4" fill="#111"><text x="164.3" y="8.4">0.95</text><text x="164.3" y="29.6">0.65</text><text x="164.3" y="51.3">0.35</text><text x="164.3" y="72.7">0.05</text></g></g>
<g transform="translate(368.4,98.3)"><use href="#base"/><g clip-path="url(#lg)"><g filter="url(#bl)"><rect x="-8" y="-8" width="175.0" height="94.6" fill="#1432e6"/><polygon points="15,12 40.6,9 46.5,9 46.5,20 45,25 47.2,30 47.4,40 45,46 43,54 15,54" fill="#1e78b4"/><polygon points="15,12 40,9 42,20 44,25 46,30 46.2,40 44,46 42,54 15,54" fill="#1e96a0"/><polygon points="15,12 34,9 39,12 40.4,20 42.6,25 44.6,30 44.8,40 42.8,46 41,54 15,54" fill="#1eb46e"/><polygon points="15,54 15,22 28,21.4 33,22.3 38,24 41.6,27 43.6,31 44,40 42.4,46 41,54" fill="#28dc32"/><polygon points="26,50 26.6,38 28.4,31.6 32,28 36.4,28 40,31.6 41.6,38 41.6,50" fill="#78f01e"/><polygon points="29,50 29.4,40 31,35.4 33.6,33.4 36,34.4 37.8,38 38.4,50" fill="#aafa14"/><polygon points="31,50 31.6,43 33.4,40 35.4,41 36.4,50" fill="#dcfa14"/><ellipse cx="26.9" cy="23.5" rx="1.8" ry="1.3" fill="#14a03c"/><polygon points="10,40 24.4,39.4 25,44 24.6,50 10,52" fill="#1e8ca0"/><polygon points="10,42.4 22.6,42 23.4,45 23,50 10,52" fill="#1450c8"/><polygon points="12,49 19.5,48.4 24,53 27,58 27,70 20,70 20,58 14,51" fill="#1432e6"/><polygon points="56,50 58.6,40 60,32 64,28 68.4,27 77,27 77,40 66,50" fill="#1e8ca0"/><polygon points="68,20 77,20 77,26.6 70,27.4 67.6,24" fill="#1450c8"/><rect x="77" y="10" width="6.2" height="34" fill="#1e96a0"/><rect x="82.6" y="10" width="3" height="34" fill="#1ec85a"/><polygon points="85.6,0 125,0 125,40 85.6,40" fill="#46f01e"/><polygon points="117.85,-5 151.25,-5 108.75,45 75.35,45" fill="#96ff14"/><polygon points="127.3,-5 160.0,-5 110.0,45 77.3,45" fill="#c8ff14"/><polygon points="131.7,-5 165.0,-5 115.0,45 81.7,45" fill="#ebfa14"/><polygon points="117.6,0 127,0 127,20 121,20" fill="#ffe60a"/><rect x="125.6" y="0" width="3" height="20" fill="#ffb414"/><rect x="128.5" y="0" width="3.6" height="20" fill="#ff8c0a"/><rect x="132" y="0" width="4" height="20" fill="#ff5a0a"/><rect x="135.8" y="0" width="40" height="20" fill="#ff3228"/></g><g fill="none" stroke="#002800" stroke-opacity="0.3" stroke-width="0.28" style="fill:none"><polygon points="15,12 40.6,9 46.5,9 46.5,20 45,25 47.2,30 47.4,40 45,46 43,54 15,54" fill="none"/><polygon points="15,12 40,9 42,20 44,25 46,30 46.2,40 44,46 42,54 15,54" fill="none"/><polygon points="15,12 34,9 39,12 40.4,20 42.6,25 44.6,30 44.8,40 42.8,46 41,54 15,54" fill="none"/><polygon points="15,54 15,22 28,21.4 33,22.3 38,24 41.6,27 43.6,31 44,40 42.4,46 41,54" fill="none"/><polygon points="26,50 26.6,38 28.4,31.6 32,28 36.4,28 40,31.6 41.6,38 41.6,50" fill="none"/><polygon points="29,50 29.4,40 31,35.4 33.6,33.4 36,34.4 37.8,38 38.4,50" fill="none"/><polygon points="31,50 31.6,43 33.4,40 35.4,41 36.4,50" fill="none"/><ellipse cx="26.9" cy="23.5" rx="1.8" ry="1.3" fill="none"/><polygon points="10,40 24.4,39.4 25,44 24.6,50 10,52" fill="none"/><polygon points="10,42.4 22.6,42 23.4,45 23,50 10,52" fill="none"/><polygon points="12,49 19.5,48.4 24,53 27,58 27,70 20,70 20,58 14,51" fill="none"/><polygon points="56,50 58.6,40 60,32 64,28 68.4,27 77,27 77,40 66,50" fill="none"/><polygon points="68,20 77,20 77,26.6 70,27.4 67.6,24" fill="none"/><rect x="77" y="10" width="6.2" height="34" fill="none"/><rect x="82.6" y="10" width="3" height="34" fill="none"/><polygon points="85.6,0 125,0 125,40 85.6,40" fill="none"/><polygon points="117.85,-5 151.25,-5 108.75,45 75.35,45" fill="none"/><polygon points="127.3,-5 160.0,-5 110.0,45 77.3,45" fill="none"/><polygon points="131.7,-5 165.0,-5 115.0,45 81.7,45" fill="none"/><polygon points="117.6,0 127,0 127,20 121,20" fill="none"/><rect x="125.6" y="0" width="3" height="20" fill="none"/><rect x="128.5" y="0" width="3.6" height="20" fill="none"/><rect x="132" y="0" width="4" height="20" fill="none"/><rect x="135.8" y="0" width="40" height="20" fill="none"/></g></g><path d="M24.6,6.6 L26,7.6 27.6,8 28.6,8.4" fill="none" stroke="#2a9696" stroke-width="0.7" opacity="0.9"/><rect x="0.3" y="0.3" width="158.4" height="78.0" fill="none" stroke="#7d7d7d" stroke-width="0.6"/><g font-family="'Liberation Serif', serif" fill="#111" stroke="#111" stroke-width="0.12"><text x="0.8" y="6.9" font-size="9.3" stroke-width="0.16">F</text><text x="36.4" y="5.9" font-size="5.5">Ikorodu</text><text x="0.7" y="31.6" font-size="5.5">Mainland</text><text x="1.2" y="49.6" font-size="5.3">Apapa</text><text x="7.8" y="55" font-size="5.4">LH</text><text x="55.6" y="56.4" font-size="5.5">Lekki</text><text x="55.3" y="69.5" font-size="7">Atlantic Ocean</text><text x="3.4" y="73.2" font-size="4.6">Commodore Channel</text></g><path d="M23.5,66.8 L23.5,70" stroke="#333" stroke-width="0.4"/><g font-family="'Liberation Serif', serif" font-size="5.2" text-anchor="middle" stroke-width="0.15"><text x="24.6" y="59.8" fill="#fff" stroke="#fff">2</text><text x="21.6" y="54.2" fill="#fff" stroke="#fff">3</text><text x="23.2" y="44.6" fill="#111" stroke="#111">4</text><text x="25" y="33.6" fill="#111" stroke="#111">5</text><text x="26.6" y="24.6" fill="#111" stroke="#111">6</text><text x="33.6" y="19.2" fill="#111" stroke="#111">7</text><text x="43" y="13.2" fill="#fff" stroke="#fff">8</text><text x="40" y="23.9" fill="#111" stroke="#111">9</text><text x="35.6" y="35.4" fill="#111" stroke="#111">10</text><text x="34.2" y="47.2" fill="#111" stroke="#111">11</text><text x="48.8" y="31.8" fill="#111" stroke="#111">12</text><text x="49" y="41.6" fill="#111" stroke="#111">13</text><text x="43" y="46.0" fill="#111" stroke="#111">14</text><text x="53.2" y="47.2" fill="#111" stroke="#111">15</text><text x="60.6" y="32.6" fill="#111" stroke="#111">16</text><text x="62.8" y="40.2" fill="#111" stroke="#111">17</text><text x="64" y="45.0" fill="#111" stroke="#111">18</text><text x="69.8" y="34.8" fill="#111" stroke="#111">19</text><text x="73.4" y="25.0" fill="#111" stroke="#111">20</text><text x="81.8" y="31.5" fill="#111" stroke="#111">21</text><text x="90" y="25.6" fill="#111" stroke="#111">22</text><text x="105.6" y="28.4" fill="#111" stroke="#111">23</text><text x="104.4" y="13.6" fill="#111" stroke="#111">24</text><text x="121.4" y="10.8" fill="#111" stroke="#111">25</text><text x="139.4" y="11.0" fill="#111" stroke="#111">26</text></g><rect x="159.0" y="0.60" width="5.0" height="5.62" fill="rgb(255,30,30)"/><rect x="159.0" y="6.17" width="5.0" height="5.62" fill="rgb(255,90,0)"/><rect x="159.0" y="6.02" width="5.0" height="0.3" fill="#000" opacity="0.22"/><rect x="159.0" y="11.74" width="5.0" height="5.62" fill="rgb(255,140,0)"/><rect x="159.0" y="11.59" width="5.0" height="0.3" fill="#000" opacity="0.22"/><rect x="159.0" y="17.31" width="5.0" height="5.62" fill="rgb(255,180,0)"/><rect x="159.0" y="17.16" width="5.0" height="0.3" fill="#000" opacity="0.22"/><rect x="159.0" y="22.89" width="5.0" height="5.62" fill="rgb(255,230,0)"/><rect x="159.0" y="22.74" width="5.0" height="0.3" fill="#000" opacity="0.22"/><rect x="159.0" y="28.46" width="5.0" height="5.62" fill="rgb(210,255,0)"/><rect x="159.0" y="28.31" width="5.0" height="0.3" fill="#000" opacity="0.22"/><rect x="159.0" y="34.03" width="5.0" height="5.62" fill="rgb(170,255,0)"/><rect x="159.0" y="33.88" width="5.0" height="0.3" fill="#000" opacity="0.22"/><rect x="159.0" y="39.60" width="5.0" height="5.62" fill="rgb(125,255,0)"/><rect x="159.0" y="39.45" width="5.0" height="0.3" fill="#000" opacity="0.22"/><rect x="159.0" y="45.17" width="5.0" height="5.62" fill="rgb(48,240,0)"/><rect x="159.0" y="45.02" width="5.0" height="0.3" fill="#000" opacity="0.22"/><rect x="159.0" y="50.74" width="5.0" height="5.62" fill="rgb(0,230,20)"/><rect x="159.0" y="50.59" width="5.0" height="0.3" fill="#000" opacity="0.22"/><rect x="159.0" y="56.31" width="5.0" height="5.62" fill="rgb(0,200,80)"/><rect x="159.0" y="56.16" width="5.0" height="0.3" fill="#000" opacity="0.22"/><rect x="159.0" y="61.89" width="5.0" height="5.62" fill="rgb(10,140,140)"/><rect x="159.0" y="61.74" width="5.0" height="0.3" fill="#000" opacity="0.22"/><rect x="159.0" y="67.46" width="5.0" height="5.62" fill="rgb(10,80,200)"/><rect x="159.0" y="67.31" width="5.0" height="0.3" fill="#000" opacity="0.22"/><rect x="159.0" y="73.03" width="5.0" height="5.62" fill="rgb(10,10,255)"/><rect x="159.0" y="72.88" width="5.0" height="0.3" fill="#000" opacity="0.22"/><g font-family="'Liberation Serif', serif" font-size="5.4" fill="#111"><text x="164.3" y="17.4">0.24</text><text x="164.3" y="32.4">0.18</text><text x="164.3" y="48.6">0.12</text><text x="164.3" y="64.0">0.06</text><text x="164.3" y="79.5">0</text></g></g>
<g transform="translate(8.9,186.1)"><use href="#base"/><g clip-path="url(#lg)"><g filter="url(#bl)"><rect x="-8" y="-8" width="175.0" height="94.6" fill="#1450c8"/><polygon points="15,0 39.4,0 39.4,8 41,20 43,25 46,30 46.2,40 44,46 42,54 15,54" fill="#1e96a0"/><polygon points="15,0 38.6,0 38.6,8 40,20 41.6,25 44,30 44.2,40 42.4,46 41,54 15,54" fill="#1eb45a"/><polygon points="15,0 38,0 38,8 39.2,20 40.6,25 43,30 43.4,40 41.6,46 40,54 15,54" fill="#28dc32"/><polygon points="15,18 28,19 33,21 37,24 40.4,28.4 42,34 42,42 40.4,50 15,54" fill="#78f01e"/><polygon points="25,50 25.6,38 27.6,31 31.4,27.8 35.4,28.4 38.4,32 39.6,38 39.4,50" fill="#c8fa14"/><polygon points="29.4,50 29.8,40 31.2,34 33.6,31 35.6,32.4 36.8,38 36.8,50" fill="#ffe60a"/><polygon points="31.4,50 31.8,43 32.8,40.4 34.2,41 34.8,50" fill="#ffd21e"/><polygon points="10,38 24,38 24.6,44 24,50 10,52" fill="#28c85a"/><ellipse cx="19" cy="46.8" rx="3" ry="2" fill="#1ea078"/><polygon points="12,49 19.5,48.4 24,53 27,58 27,70 20,70 20,58 14,51" fill="#1432e6"/><polygon points="46.6,26 52,28.6 56,31 56.4,37 53,41 49,43.4 46.4,40 46.2,31" fill="#1432f0"/><polygon points="58,50 60.5,43 64,41 69,39 70,42 68,46.7 62,50" fill="#1e8ca0"/><polygon points="68,36 69.4,26 72,20 78,20 78,40 70,40" fill="#1ea078"/><rect x="76.5" y="10" width="6" height="34" fill="#28c85a"/><polygon points="96.9,-5 100.5,-5 75.5,45 71.9,45" fill="#46f01e"/><polygon points="98.7,-5 101.7,-5 76.7,45 73.7,45" fill="#96ff14"/><polygon points="100.7,-5 103.7,-5 78.7,45 75.7,45" fill="#d2ff0a"/><polygon points="102.9,-5 107.9,-5 82.9,45 77.9,45" fill="#ffe60a"/><polygon points="107.5,-5 202.5,-5 177.5,45 82.5,45" fill="#ffaa14"/><polygon points="92,24 96,15 101,10 106,4.6 112.6,3.2 114.6,7.6 108.4,11 104,15.4 99.6,21 96.6,26" fill="#ffe60a"/><ellipse cx="107" cy="24" rx="11" ry="7.3" fill="#ff8214" transform="rotate(-14 107 24)"/><ellipse cx="104.2" cy="26.5" rx="4.4" ry="2.5" fill="#ff3c1e" transform="rotate(-6 104.2 26.5)"/></g><g fill="none" stroke="#002800" stroke-opacity="0.3" stroke-width="0.28" style="fill:none"><polygon points="15,0 39.4,0 39.4,8 41,20 43,25 46,30 46.2,40 44,46 42,54 15,54" fill="none"/><polygon points="15,0 38.6,0 38.6,8 40,20 41.6,25 44,30 44.2,40 42.4,46 41,54 15,54" fill="none"/><polygon points="15,0 38,0 38,8 39.2,20 40.6,25 43,30 43.4,40 41.6,46 40,54 15,54" fill="none"/><polygon points="15,18 28,19 33,21 37,24 40.4,28.4 42,34 42,42 40.4,50 15,54" fill="none"/><polygon points="25,50 25.6,38 27.6,31 31.4,27.8 35.4,28.4 38.4,32 39.6,38 39.4,50" fill="none"/><polygon points="29.4,50 29.8,40 31.2,34 33.6,31 35.6,32.4 36.8,38 36.8,50" fill="none"/><polygon points="31.4,50 31.8,43 32.8,40.4 34.2,41 34.8,50" fill="none"/><polygon points="10,38 24,38 24.6,44 24,50 10,52" fill="none"/><ellipse cx="19" cy="46.8" rx="3" ry="2" fill="none"/><polygon points="12,49 19.5,48.4 24,53 27,58 27,70 20,70 20,58 14,51" fill="none"/><polygon points="46.6,26 52,28.6 56,31 56.4,37 53,41 49,43.4 46.4,40 46.2,31" fill="none"/><polygon points="58,50 60.5,43 64,41 69,39 70,42 68,46.7 62,50" fill="none"/><polygon points="68,36 69.4,26 72,20 78,20 78,40 70,40" fill="none"/><rect x="76.5" y="10" width="6" height="34" fill="none"/><polygon points="96.9,-5 100.5,-5 75.5,45 71.9,45" fill="none"/><polygon points="98.7,-5 101.7,-5 76.7,45 73.7,45" fill="none"/><polygon points="100.7,-5 103.7,-5 78.7,45 75.7,45" fill="none"/><polygon points="102.9,-5 107.9,-5 82.9,45 77.9,45" fill="none"/><polygon points="107.5,-5 202.5,-5 177.5,45 82.5,45" fill="none"/><polygon points="92,24 96,15 101,10 106,4.6 112.6,3.2 114.6,7.6 108.4,11 104,15.4 99.6,21 96.6,26" fill="none"/><ellipse cx="107" cy="24" rx="11" ry="7.3" fill="none" transform="rotate(-14 107 24)"/><ellipse cx="104.2" cy="26.5" rx="4.4" ry="2.5" fill="none" transform="rotate(-6 104.2 26.5)"/></g></g><path d="M24.6,6.6 L26,7.6 27.6,8 28.6,8.4" fill="none" stroke="#50d250" stroke-width="0.7" opacity="0.9"/><rect x="0.3" y="0.3" width="158.4" height="78.0" fill="none" stroke="#7d7d7d" stroke-width="0.6"/><g font-family="'Liberation Serif', serif" fill="#111" stroke="#111" stroke-width="0.12"><text x="0.8" y="6.9" font-size="9.3" stroke-width="0.16">G</text><text x="36.4" y="5.9" font-size="5.5">Ikorodu</text><text x="0.7" y="31.6" font-size="5.5">Mainland</text><text x="1.2" y="49.6" font-size="5.3">Apapa</text><text x="7.8" y="55" font-size="5.4">LH</text><text x="55.6" y="56.4" font-size="5.5">Lekki</text><text x="55.3" y="69.5" font-size="7">Atlantic Ocean</text><text x="3.4" y="73.2" font-size="4.6">Commodore Channel</text></g><path d="M23.5,66.8 L23.5,70" stroke="#333" stroke-width="0.4"/><g font-family="'Liberation Serif', serif" font-size="5.2" text-anchor="middle" stroke-width="0.15"><text x="24.6" y="59.8" fill="#fff" stroke="#fff">2</text><text x="21.6" y="54.2" fill="#fff" stroke="#fff">3</text><text x="23.2" y="44.6" fill="#111" stroke="#111">4</text><text x="25" y="33.6" fill="#111" stroke="#111">5</text><text x="26.6" y="24.6" fill="#111" stroke="#111">6</text><text x="33.6" y="19.2" fill="#111" stroke="#111">7</text><text x="43" y="13.2" fill="#111" stroke="#111">8</text><text x="40" y="23.9" fill="#111" stroke="#111">9</text><text x="35.6" y="35.4" fill="#111" stroke="#111">10</text><text x="34.2" y="47.2" fill="#111" stroke="#111">11</text><text x="48.8" y="31.8" fill="#111" stroke="#111">12</text><text x="49" y="41.6" fill="#111" stroke="#111">13</text><text x="43" y="46.0" fill="#111" stroke="#111">14</text><text x="53.2" y="47.2" fill="#111" stroke="#111">15</text><text x="60.6" y="32.6" fill="#111" stroke="#111">16</text><text x="62.8" y="40.2" fill="#111" stroke="#111">17</text><text x="64" y="45.0" fill="#111" stroke="#111">18</text><text x="69.8" y="34.8" fill="#111" stroke="#111">19</text><text x="73.4" y="25.0" fill="#111" stroke="#111">20</text><text x="81.8" y="31.5" fill="#111" stroke="#111">21</text><text x="90" y="25.6" fill="#111" stroke="#111">22</text><text x="105.6" y="28.4" fill="#111" stroke="#111">23</text><text x="104.4" y="13.6" fill="#111" stroke="#111">24</text><text x="121.4" y="10.8" fill="#111" stroke="#111">25</text><text x="132.5" y="11.0" fill="#111" stroke="#111">26</text></g><rect x="159.0" y="0.60" width="5.0" height="7.14" fill="rgb(255,30,30)"/><rect x="159.0" y="7.69" width="5.0" height="7.14" fill="rgb(255,105,0)"/><rect x="159.0" y="7.54" width="5.0" height="0.3" fill="#000" opacity="0.22"/><rect x="159.0" y="14.78" width="5.0" height="7.14" fill="rgb(255,164,0)"/><rect x="159.0" y="14.63" width="5.0" height="0.3" fill="#000" opacity="0.22"/><rect x="159.0" y="21.87" width="5.0" height="7.14" fill="rgb(255,225,0)"/><rect x="159.0" y="21.72" width="5.0" height="0.3" fill="#000" opacity="0.22"/><rect x="159.0" y="28.96" width="5.0" height="7.14" fill="rgb(202,255,0)"/><rect x="159.0" y="28.81" width="5.0" height="0.3" fill="#000" opacity="0.22"/><rect x="159.0" y="36.05" width="5.0" height="7.14" fill="rgb(148,255,0)"/><rect x="159.0" y="35.90" width="5.0" height="0.3" fill="#000" opacity="0.22"/><rect x="159.0" y="43.15" width="5.0" height="7.14" fill="rgb(63,243,0)"/><rect x="159.0" y="43.00" width="5.0" height="0.3" fill="#000" opacity="0.22"/><rect x="159.0" y="50.24" width="5.0" height="7.14" fill="rgb(0,227,26)"/><rect x="159.0" y="50.09" width="5.0" height="0.3" fill="#000" opacity="0.22"/><rect x="159.0" y="57.33" width="5.0" height="7.14" fill="rgb(4,176,104)"/><rect x="159.0" y="57.18" width="5.0" height="0.3" fill="#000" opacity="0.22"/><rect x="159.0" y="64.42" width="5.0" height="7.14" fill="rgb(10,98,182)"/><rect x="159.0" y="64.27" width="5.0" height="0.3" fill="#000" opacity="0.22"/><rect x="159.0" y="71.51" width="5.0" height="7.14" fill="rgb(10,10,255)"/><rect x="159.0" y="71.36" width="5.0" height="0.3" fill="#000" opacity="0.22"/><g font-family="'Liberation Serif', serif" font-size="5.4" fill="#111"><text x="164.3" y="15.5">0.625</text><text x="164.3" y="30.0">0.475</text><text x="164.3" y="44.6">0.325</text><text x="164.3" y="59.1">0.175</text><text x="164.3" y="73.7">0.025</text></g></g>
<g transform="translate(190.9,186.1)"><use href="#base"/><g clip-path="url(#lg)"><g filter="url(#bl)"><rect x="-8" y="-8" width="175.0" height="94.6" fill="#1432f0"/><polygon points="77.4,0 90,0 90,40 78.8,40" fill="#1446c8"/><polygon points="86.6,0 133,0 133,40 85.4,40" fill="#14649b"/><polygon points="111,0 133,0 133,40 94,40" fill="#149678"/><polygon points="114.8,0 170,0 170,40 112.6,40" fill="#28c83c"/><rect x="140.7" y="0" width="30" height="20" fill="#46d246"/><ellipse cx="35.9" cy="32.2" rx="12.9" ry="12.9" fill="#1464c8"/><ellipse cx="35.9" cy="32.2" rx="12.1" ry="12.1" fill="#1e8ca0"/><ellipse cx="35.9" cy="32.2" rx="11.3" ry="11.3" fill="#28aa5a"/><ellipse cx="35.9" cy="32.2" rx="10.3" ry="10.3" fill="#32be3c"/><ellipse cx="35.9" cy="32.2" rx="7" ry="7" fill="#50c83c"/><ellipse cx="35.9" cy="32.2" rx="4.6" ry="4.6" fill="#8cb446"/><ellipse cx="35.9" cy="32.2" rx="3.3" ry="3.3" fill="#dc6450"/><ellipse cx="35.9" cy="32.2" rx="1.4" ry="1.4" fill="#fff0f0"/></g><g fill="none" stroke="#002800" stroke-opacity="0.3" stroke-width="0.28" style="fill:none"><polygon points="77.4,0 90,0 90,40 78.8,40" fill="none"/><polygon points="86.6,0 133,0 133,40 85.4,40" fill="none"/><polygon points="111,0 133,0 133,40 94,40" fill="none"/><polygon points="114.8,0 170,0 170,40 112.6,40" fill="none"/><rect x="140.7" y="0" width="30" height="20" fill="none"/><ellipse cx="35.9" cy="32.2" rx="12.9" ry="12.9" fill="none"/><ellipse cx="35.9" cy="32.2" rx="12.1" ry="12.1" fill="none"/><ellipse cx="35.9" cy="32.2" rx="11.3" ry="11.3" fill="none"/><ellipse cx="35.9" cy="32.2" rx="10.3" ry="10.3" fill="none"/><ellipse cx="35.9" cy="32.2" rx="7" ry="7" fill="none"/><ellipse cx="35.9" cy="32.2" rx="4.6" ry="4.6" fill="none"/><ellipse cx="35.9" cy="32.2" rx="3.3" ry="3.3" fill="none"/><ellipse cx="35.9" cy="32.2" rx="1.4" ry="1.4" fill="none"/></g></g><path d="M24.6,6.6 L26,7.6 27.6,8 28.6,8.4" fill="none" stroke="#2850f0" stroke-width="0.7" opacity="0.9"/><rect x="0.3" y="0.3" width="158.4" height="78.0" fill="none" stroke="#7d7d7d" stroke-width="0.6"/><g font-family="'Liberation Serif', serif" fill="#111" stroke="#111" stroke-width="0.12"><text x="0.8" y="6.9" font-size="9.3" stroke-width="0.16">H</text><text x="36.4" y="5.9" font-size="5.5">Ikorodu</text><text x="0.7" y="31.6" font-size="5.5">Mainland</text><text x="1.2" y="49.6" font-size="5.3">Apapa</text><text x="7.8" y="55" font-size="5.4">LH</text><text x="55.6" y="56.4" font-size="5.5">Lekki</text><text x="55.3" y="69.5" font-size="7">Atlantic Ocean</text><text x="3.4" y="73.2" font-size="4.6">Commodore Channel</text></g><path d="M23.5,66.8 L23.5,70" stroke="#333" stroke-width="0.4"/><g font-family="'Liberation Serif', serif" font-size="5.2" text-anchor="middle" stroke-width="0.15"><text x="24.6" y="59.8" fill="#fff" stroke="#fff">2</text><text x="21.6" y="54.2" fill="#fff" stroke="#fff">3</text><text x="23.2" y="44.6" fill="#fff" stroke="#fff">4</text><text x="25" y="33.6" fill="#fff" stroke="#fff">5</text><text x="26.6" y="24.6" fill="#fff" stroke="#fff">6</text><text x="33.6" y="19.2" fill="#fff" stroke="#fff">7</text><text x="43" y="13.2" fill="#fff" stroke="#fff">8</text><text x="40" y="23.9" fill="#fff" stroke="#fff">9</text><text x="35.6" y="35.4" fill="#fff" stroke="#fff">10</text><text x="34.2" y="47.2" fill="#fff" stroke="#fff">11</text><text x="48.8" y="31.8" fill="#fff" stroke="#fff">12</text><text x="49" y="41.6" fill="#fff" stroke="#fff">13</text><text x="43" y="46.0" fill="#fff" stroke="#fff">14</text><text x="53.2" y="47.2" fill="#fff" stroke="#fff">15</text><text x="60.6" y="32.6" fill="#fff" stroke="#fff">16</text><text x="62.8" y="40.2" fill="#fff" stroke="#fff">17</text><text x="64" y="45.0" fill="#fff" stroke="#fff">18</text><text x="69.8" y="34.8" fill="#fff" stroke="#fff">19</text><text x="73.4" y="25.0" fill="#fff" stroke="#fff">20</text><text x="81.8" y="31.5" fill="#fff" stroke="#fff">21</text><text x="90" y="25.6" fill="#fff" stroke="#fff">22</text><text x="105.6" y="28.4" fill="#fff" stroke="#fff">23</text><text x="104.4" y="13.6" fill="#fff" stroke="#fff">24</text><text x="121.4" y="10.8" fill="#111" stroke="#111">25</text><text x="132.7" y="11.0" fill="#111" stroke="#111">26</text></g><rect x="159.0" y="0.60" width="5.0" height="3.60" fill="rgb(255,30,30)"/><rect x="159.0" y="4.15" width="5.0" height="3.60" fill="rgb(255,67,11)"/><rect x="159.0" y="4.00" width="5.0" height="0.3" fill="#000" opacity="0.22"/><rect x="159.0" y="7.69" width="5.0" height="3.60" fill="rgb(255,102,0)"/><rect x="159.0" y="7.54" width="5.0" height="0.3" fill="#000" opacity="0.22"/><rect x="159.0" y="11.24" width="5.0" height="3.60" fill="rgb(255,133,0)"/><rect x="159.0" y="11.09" width="5.0" height="0.3" fill="#000" opacity="0.22"/><rect x="159.0" y="14.78" width="5.0" height="3.60" fill="rgb(255,159,0)"/><rect x="159.0" y="14.63" width="5.0" height="0.3" fill="#000" opacity="0.22"/><rect x="159.0" y="18.33" width="5.0" height="3.60" fill="rgb(255,185,0)"/><rect x="159.0" y="18.18" width="5.0" height="0.3" fill="#000" opacity="0.22"/><rect x="159.0" y="21.87" width="5.0" height="3.60" fill="rgb(255,216,0)"/><rect x="159.0" y="21.72" width="5.0" height="0.3" fill="#000" opacity="0.22"/><rect x="159.0" y="25.42" width="5.0" height="3.60" fill="rgb(240,238,0)"/><rect x="159.0" y="25.27" width="5.0" height="0.3" fill="#000" opacity="0.22"/><rect x="159.0" y="28.96" width="5.0" height="3.60" fill="rgb(212,254,0)"/><rect x="159.0" y="28.81" width="5.0" height="0.3" fill="#000" opacity="0.22"/><rect x="159.0" y="32.51" width="5.0" height="3.60" fill="rgb(187,255,0)"/><rect x="159.0" y="32.36" width="5.0" height="0.3" fill="#000" opacity="0.22"/><rect x="159.0" y="36.05" width="5.0" height="3.60" fill="rgb(161,255,0)"/><rect x="159.0" y="35.90" width="5.0" height="0.3" fill="#000" opacity="0.22"/><rect x="159.0" y="39.60" width="5.0" height="3.60" fill="rgb(134,255,0)"/><rect x="159.0" y="39.45" width="5.0" height="0.3" fill="#000" opacity="0.22"/><rect x="159.0" y="43.15" width="5.0" height="3.60" fill="rgb(92,249,0)"/><rect x="159.0" y="43.00" width="5.0" height="0.3" fill="#000" opacity="0.22"/><rect x="159.0" y="46.69" width="5.0" height="3.60" fill="rgb(46,240,1)"/><rect x="159.0" y="46.54" width="5.0" height="0.3" fill="#000" opacity="0.22"/><rect x="159.0" y="50.24" width="5.0" height="3.60" fill="rgb(16,233,13)"/><rect x="159.0" y="50.09" width="5.0" height="0.3" fill="#000" opacity="0.22"/><rect x="159.0" y="53.78" width="5.0" height="3.60" fill="rgb(0,221,37)"/><rect x="159.0" y="53.63" width="5.0" height="0.3" fill="#000" opacity="0.22"/><rect x="159.0" y="57.33" width="5.0" height="3.60" fill="rgb(0,203,74)"/><rect x="159.0" y="57.18" width="5.0" height="0.3" fill="#000" opacity="0.22"/><rect x="159.0" y="60.87" width="5.0" height="3.60" fill="rgb(5,169,111)"/><rect x="159.0" y="60.72" width="5.0" height="0.3" fill="#000" opacity="0.22"/><rect x="159.0" y="64.42" width="5.0" height="3.60" fill="rgb(10,131,149)"/><rect x="159.0" y="64.27" width="5.0" height="0.3" fill="#000" opacity="0.22"/><rect x="159.0" y="67.96" width="5.0" height="3.60" fill="rgb(10,94,186)"/><rect x="159.0" y="67.81" width="5.0" height="0.3" fill="#000" opacity="0.22"/><rect x="159.0" y="71.51" width="5.0" height="3.60" fill="rgb(10,53,221)"/><rect x="159.0" y="71.36" width="5.0" height="0.3" fill="#000" opacity="0.22"/><rect x="159.0" y="75.05" width="5.0" height="3.60" fill="rgb(10,10,255)"/><rect x="159.0" y="74.90" width="5.0" height="0.3" fill="#000" opacity="0.22"/><g font-family="'Liberation Serif', serif" font-size="5.3" fill="#111"><text x="164.3" y="7.5">122</text><text x="164.3" y="20.5">98</text><text x="164.3" y="33.4">74</text><text x="164.3" y="46.4">50</text><text x="164.3" y="59.6">26</text><text x="164.3" y="69.2">8</text></g></g>
<rect x="368.4" y="188.6" width="178.6" height="113" fill="#fff" stroke="#6e6e6e" stroke-width="0.9"/><g font-family="'Liberation Serif', serif" font-size="8.15" fill="#111" stroke="#111" stroke-width="0.1"><text x="377.6" y="197.2">F<tspan font-size="5.3" dy="1.5">Oxidizable</tspan><tspan dy="-1.5"> spatial distribution of PTEs.</tspan></text><text x="377.6" y="207.0">A. Chromium (Cr);</text><text x="377.6" y="216.8">B. Cobalt (Co);</text><text x="377.6" y="226.6">C. Copper (Cu);</text><text x="377.6" y="236.4">D. Nickel (Ni);</text><text x="377.6" y="246.2">E. Lead (Pb);</text><text x="377.6" y="256.0">F. Aluminium (Al);</text><text x="377.6" y="265.8">G. Iron (Fe);</text><text x="377.6" y="275.6">H. Zinc (Zn).</text><text x="377.6" y="285.4">All concentrations are in mg/kg except for Al</text><text x="377.6" y="295.2">and Fe which are represented as percent.</text></g>
</svg></body></html>
